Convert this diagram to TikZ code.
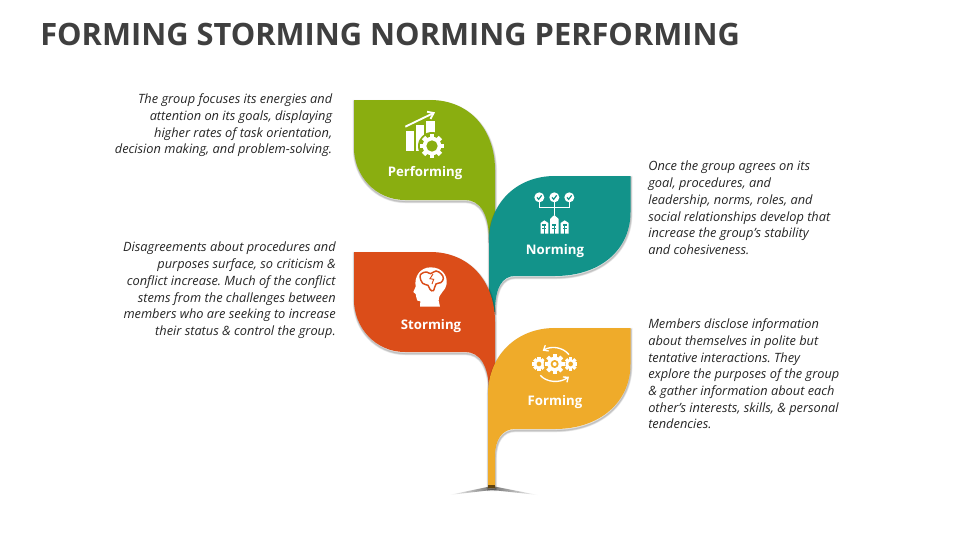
\documentclass[tikz,border=0pt]{standalone}
\usepackage{fontspec}
\setmainfont{Open Sans}
\usetikzlibrary{arrows.meta}
\definecolor{cgreen}{HTML}{8AAE10}
\definecolor{cteal}{HTML}{12938A}
\definecolor{cred}{HTML}{DB4D19}
\definecolor{corange}{HTML}{EFAB2A}
\definecolor{ctitle}{HTML}{3F3F3F}
\definecolor{ctext}{HTML}{262626}
\tikzset{
  titletext/.style={anchor=base west,inner sep=0,text=ctitle,font=\fontsize{23.1}{28}\selectfont\bfseries},
  leaflabel/.style={text=white,inner sep=0,font=\fontsize{9.9}{12}\selectfont\bfseries},
  bodyleft/.style={anchor=north east,align=right,inner sep=0,text=ctext,font=\fontsize{9.6}{12.55}\selectfont\itshape},
  bodyright/.style={anchor=north west,align=left,inner sep=0,text=ctext,font=\fontsize{9.6}{12.55}\selectfont\itshape},
  icon/.style={shift={#1},x=0.25pt,y=-0.25pt}
}
\def\pGreen{(354,100) -- (430,100) .. controls (470,100) and (495,130) .. (495,170) -- (495,240) -- (489,240) .. controls (489,214) and (480,200) .. (465,200) -- (405,200) .. controls (375,200) and (354,175) .. (354,148) -- cycle}
\def\pRed{(354,252) -- (430,252) .. controls (470,252) and (495,282) .. (495,322) -- (495,392) -- (489,392) .. controls (489,366) and (480,352) .. (465,352) -- (405,352) .. controls (375,352) and (354,327) .. (354,300) -- cycle}
\def\pTeal{(630.5,176) -- (630.5,212) .. controls (630.5,250) and (600,276) .. (555,276) -- (515,276) .. controls (502,276) and (495,288) .. (495,312) -- (489,312) -- (489,240) .. controls (489,205) and (515,176) .. (555,176) -- cycle}
\def\pOrange{(630.5,328) -- (630.5,364) .. controls (630.5,402) and (600,429) .. (555,429) -- (515,429) .. controls (502,429) and (495,440) .. (495,456) -- (495,488) -- (488,488) -- (488,392) .. controls (489,357) and (515,328) .. (555,328) -- cycle}
\newcommand\leaf[2]{%
  \foreach \w in {0.5,1,1.5,2,2.5}{\draw[black,opacity=.055,line width=\w pt,shift={(0.4,1.6)}] #1;}
  \fill[#2] #1;}
% x, y, outer radius, body radius, hole radius, background, teeth step, tooth half width
\newcommand\gearglyph[8]{%
  \foreach \a in {0,#7,...,359}{\fill[white,shift={(#1,#2)},rotate=\a] (-#8,0) rectangle (#8,#3);}
  \fill[white] (#1,#2) circle (#4);
  \fill[#6] (#1,#2) circle (#5);}
\begin{document}
\frenchspacing
\begin{tikzpicture}[x=0.75pt,y=-0.75pt]
\useasboundingbox (0,0) rectangle (960,540);
\fill[white] (0,0) rectangle (960,540);
\node[titletext] (title) at (40,45) {FORMING STORMING NORMING PERFORMING};
% base
\shade[left color=white,right color=black!55] (449,495) -- (492,486) -- (492,490) -- cycle;
\shade[left color=black!55,right color=white] (492,486) -- (538,495) -- (492,490) -- cycle;
% leaves
\leaf{\pGreen}{cgreen}
\leaf{\pTeal}{cteal}
\leaf{\pRed}{cred}
\leaf{\pOrange}{corange}
\fill[black!60!corange] (488,485) -- (495,485) -- (495,488) -- (488,488) -- cycle;
% performing icon
\begin{scope}[icon={(340,90)}]
 \fill[white] (197,122) rectangle (222,182);
 \fill[white] (228,105) rectangle (252,182);
 \fill[white] (258,92) rectangle (285,170);
 \draw[white,line width=1.4pt,-{Straight Barb[length=4pt,width=6pt]}] (196,110) -- (285,67);
 \fill[cgreen] (276,168) circle (42);
 \gearglyph{276}{168}{36}{28}{17}{cgreen}{45}{7}
\end{scope}
% norming icon
\begin{scope}[icon={(520,185)}]
 \draw[white,line width=.8pt] (58,37) -- (58,68) -- (148,68) -- (148,37) (103,37) -- (103,90);
 \foreach \c in {58,103,148}{
  \fill[white] (\c,37) circle (15);
  \draw[cteal,line width=.9pt] (\c-7,37) -- (\c-2,43) -- (\c+7,31);}
 \fill[white] (90,146) -- (90,102) -- (103,90) -- (116,102) -- (116,146) -- cycle;
 \fill[white] (62,146) -- (62,114) -- (73,106) -- (85,114) -- (85,146) -- cycle;
 \fill[white] (122,146) -- (122,114) -- (134,106) -- (146,114) -- (146,146) -- cycle;
 \foreach \c in {73,103,134}{
  \fill[cteal] (\c-6,118) rectangle (\c+6,122);
  \fill[cteal] (\c-6,128) rectangle (\c+6,132);
  \fill[cteal] (\c-1.5,118) rectangle (\c+1.5,146);}
\end{scope}
% storming icon
\begin{scope}[icon={(400,260)}]
 \fill[white] (60,140) -- (61,124) .. controls (52,125) and (49,120) .. (49,112) -- (47,102) -- (40,96) -- (47,80) .. controls (42,50) and (60,22) .. (92,22) .. controls (125,22) and (143,45) .. (140,72) .. controls (138,92) and (115,100) .. (116,122) -- (120,140) -- cycle;
 \draw[cred,line width=1.1pt] plot[smooth cycle,tension=.7] coordinates {(60,50) (66,40) (80,36) (92,41) (108,33) (124,42) (130,56) (122,68) (108,72) (100,92) (90,88) (84,76) (68,70)};
 \draw[cred,line width=.7pt] (99,42) -- (90,56) -- (101,58) -- (96,72);
\end{scope}
% forming icon
\begin{scope}[icon={(525,340)}]
 \gearglyph{42}{72}{20}{14}{7}{corange}{45}{5}
 \gearglyph{137}{72}{20}{14}{7}{corange}{45}{5}
 \fill[corange] (89,72) circle (33);
 \gearglyph{89}{72}{30}{22}{12}{corange}{45}{6}
 \fill[white] (89,72) circle (6);
 \draw[white,line width=1pt,-{Straight Barb[length=3pt,width=5pt]}] (132,44) .. controls (115,22) and (80,16) .. (53,32);
 \draw[white,line width=1pt,-{Straight Barb[length=3pt,width=5pt]}] (46,106) .. controls (65,128) and (105,130) .. (132,110);
\end{scope}
% labels
\node[leaflabel] (lp) at (425,173) {Performing};
\node[leaflabel] (ln) at (555,251) {Norming};
\node[leaflabel] (ls) at (431,326) {Storming};
\node[leaflabel] (lf) at (555,402) {Forming};
% descriptions
\node[bodyleft] (tp) at (332.5,93.5) {The group focuses its energies and\\attention on its goals, displaying\\higher rates of task orientation,\\decision making, and problem-solving.};
\node[bodyleft] (ts) at (336,242) {Disagreements about procedures and\\purposes surface, so criticism \&\\conflict increase. Much of the conflict\\stems from the challenges between\\members who are seeking to increase\\their status \& control the group.};
\node[bodyright] (tn) at (648,161) {Once the group agrees on its\\goal, procedures, and\\leadership, norms, roles, and\\social relationships develop that\\increase the group's stability\\and cohesiveness.};
\node[bodyright] (tf) at (648,318.5) {Members disclose information\\about themselves in polite but\\tentative interactions. They\\explore the purposes of the group\\\& gather information about each\\other’s interests, skills, \& personal\\tendencies.};
\end{tikzpicture}
\end{document}
